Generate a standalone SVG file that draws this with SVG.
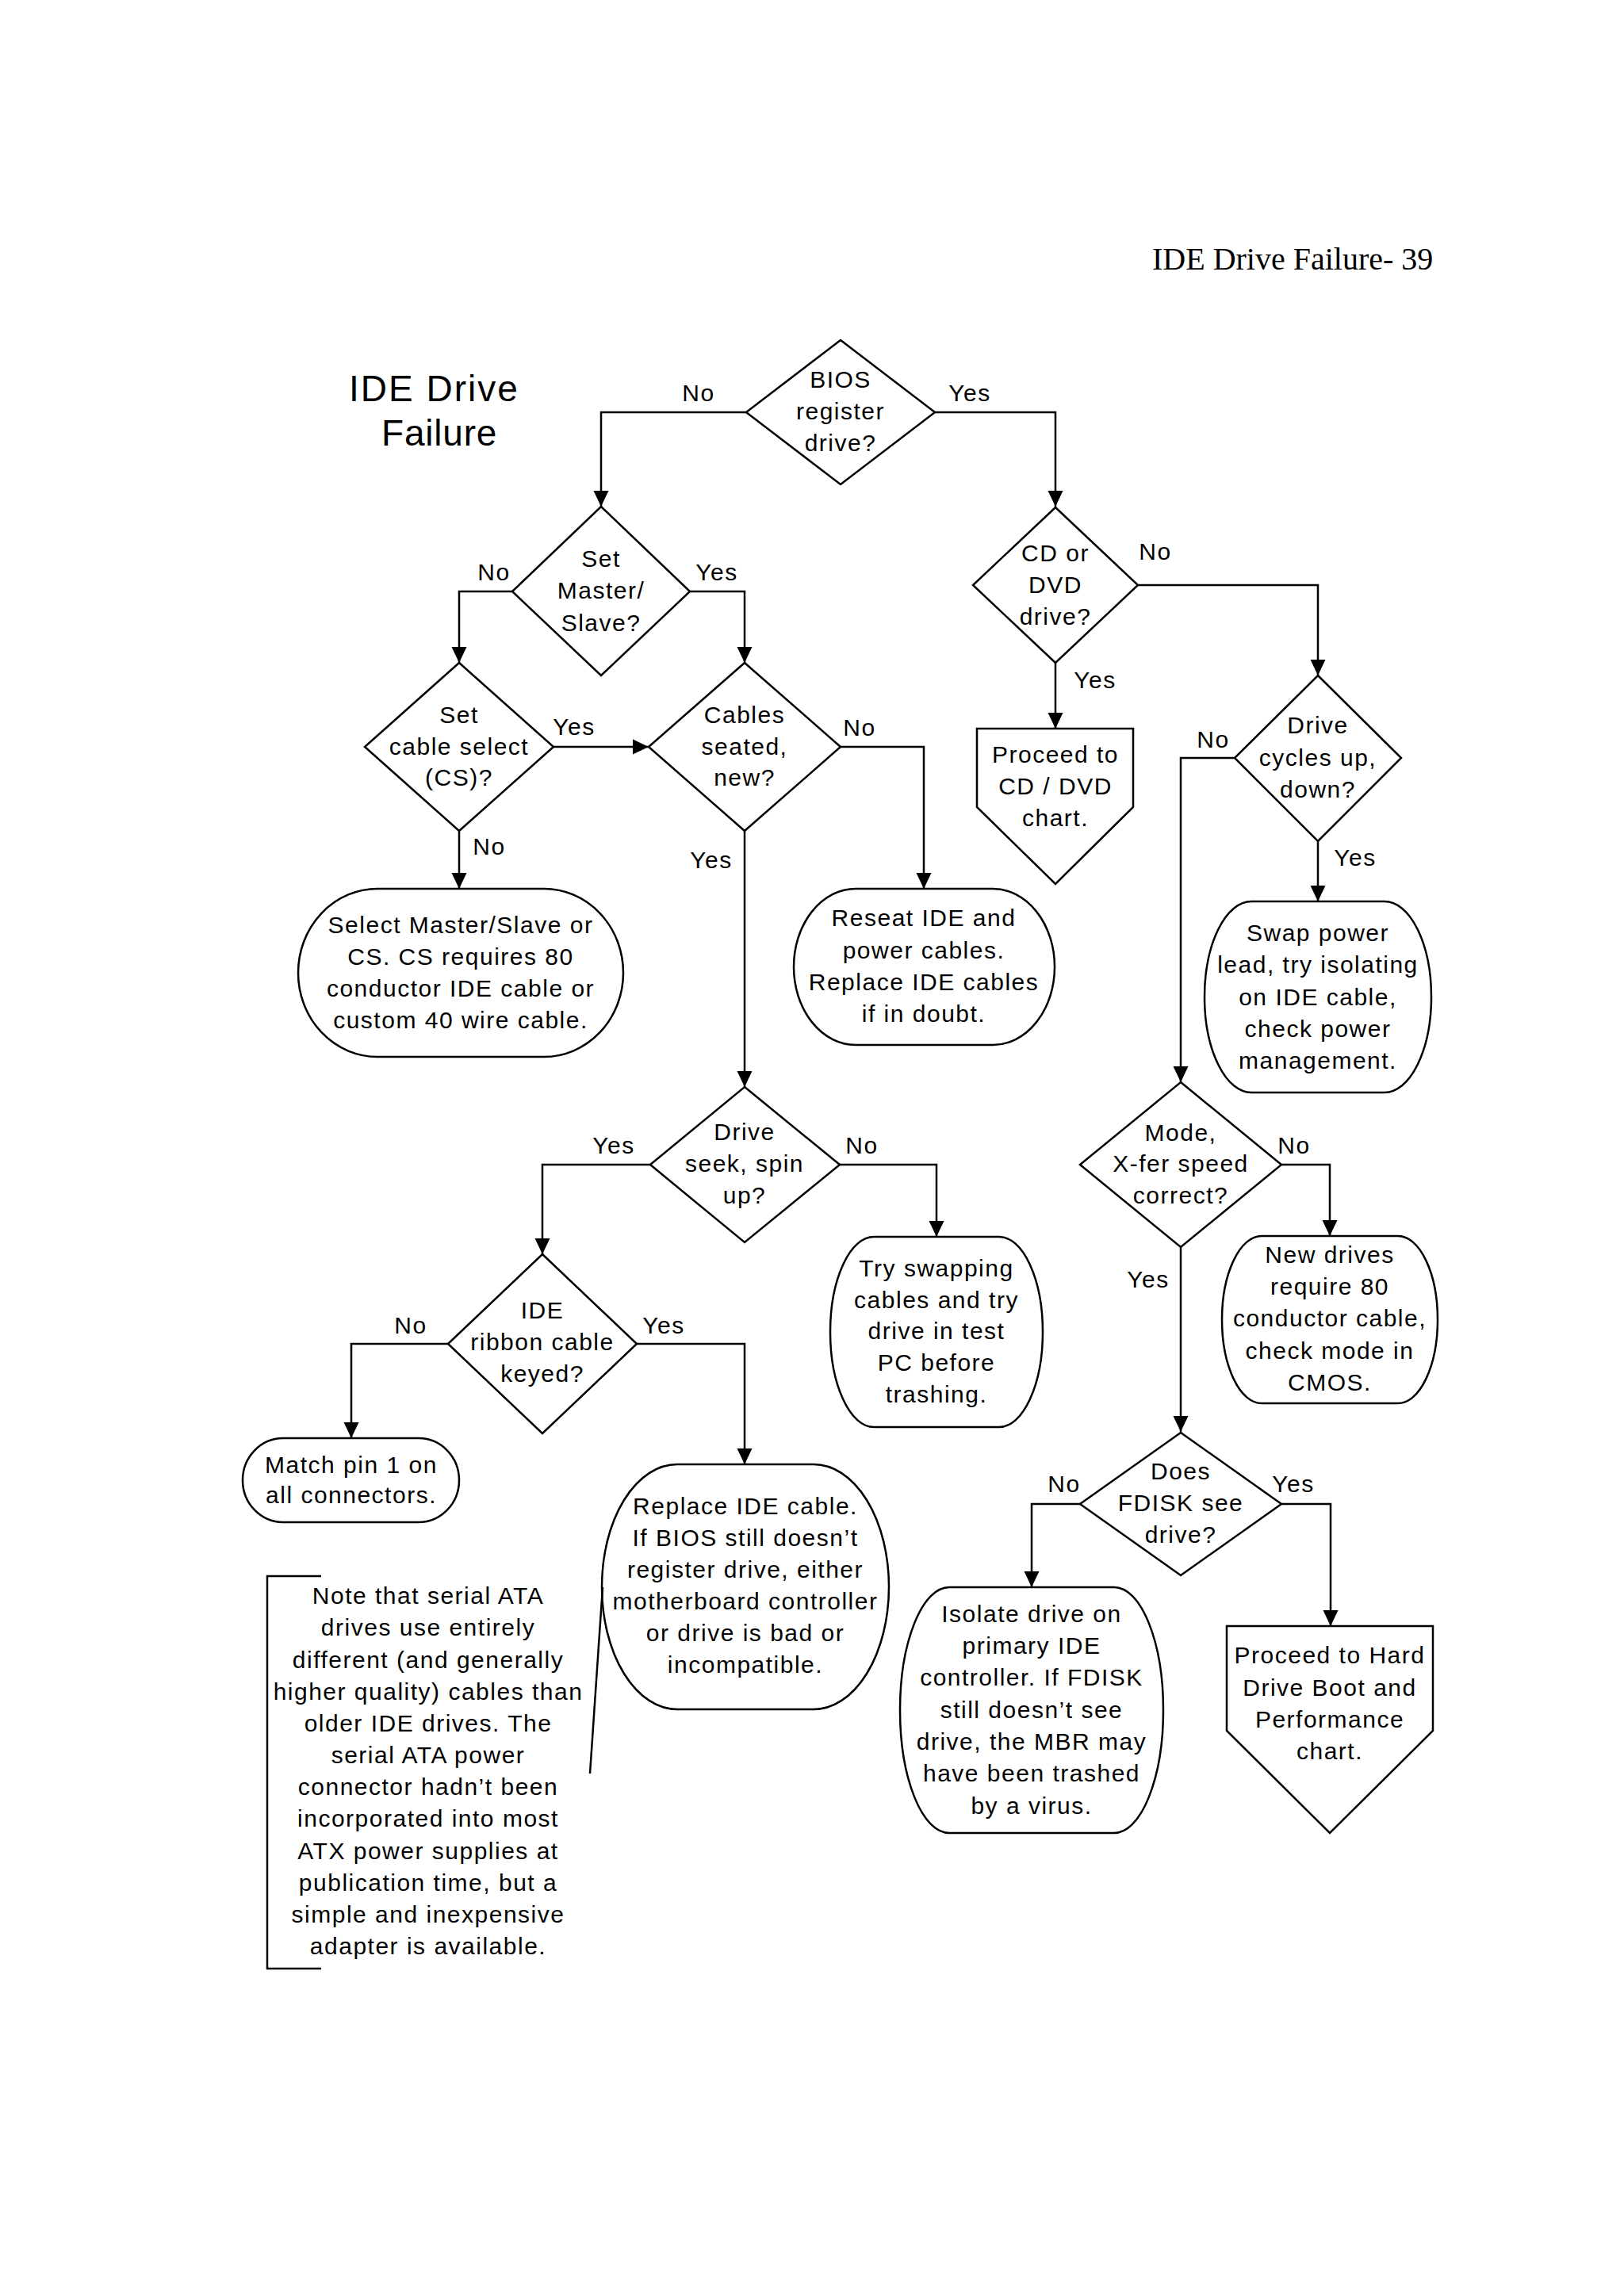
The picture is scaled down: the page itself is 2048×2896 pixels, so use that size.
<svg xmlns="http://www.w3.org/2000/svg" width="2048" height="2896" viewBox="0 0 2048 2896">
<defs>
<style>
.s{fill:#fff;stroke:#000;stroke-width:2.5}
.c{fill:none;stroke:#000;stroke-width:2.5}
.t{font-family:"Liberation Sans",Arial,sans-serif;font-size:30px;letter-spacing:1.5px;text-anchor:middle;fill:#000}
.l{font-family:"Liberation Sans",Arial,sans-serif;font-size:30px;letter-spacing:1.5px;text-anchor:middle;fill:#000}
.h{font-family:"Liberation Serif","Times New Roman",serif;font-size:40px;fill:#000}
.ti{font-family:"Liberation Sans",Arial,sans-serif;font-size:46px;fill:#000}
</style>
<marker id="ah" markerUnits="userSpaceOnUse" markerWidth="20" markerHeight="20" viewBox="0 0 20 19" refX="20" refY="9.5" orient="auto">
<path d="M0,0 L20,9.5 L0,19 Z" fill="#000"/>
</marker>
</defs>
<rect width="2048" height="2896" fill="#fff"/>
<text class="h" x="1453" y="340">IDE Drive Failure- 39</text>
<g id="title">
<text class="ti" x="440" y="506" letter-spacing="2">IDE Drive</text>
<text class="ti" x="481" y="562" letter-spacing="0.8">Failure</text>
</g>

<g id="connectors">
<path class="c" d="M941,520 H758 V639" marker-end="url(#ah)"/>
<path class="c" d="M1179,520 H1331 V639" marker-end="url(#ah)"/>
<path class="c" d="M646,746 H579 V836" marker-end="url(#ah)"/>
<path class="c" d="M870,746 H939 V836" marker-end="url(#ah)"/>
<path class="c" d="M698,942 H818" marker-end="url(#ah)"/>
<path class="c" d="M579,1048 V1121" marker-end="url(#ah)"/>
<path class="c" d="M1060,942 H1165 V1121" marker-end="url(#ah)"/>
<path class="c" d="M939,1048 V1371" marker-end="url(#ah)"/>
<path class="c" d="M1435,738 H1662 V852" marker-end="url(#ah)"/>
<path class="c" d="M1331,836 V919" marker-end="url(#ah)"/>
<path class="c" d="M1557,956 H1489 V1365" marker-end="url(#ah)"/>
<path class="c" d="M1662,1061 V1137" marker-end="url(#ah)"/>
<path class="c" d="M820,1469 H684 V1582" marker-end="url(#ah)"/>
<path class="c" d="M1059,1469 H1181 V1560" marker-end="url(#ah)"/>
<path class="c" d="M1616,1469 H1677 V1559" marker-end="url(#ah)"/>
<path class="c" d="M1489,1573 V1806" marker-end="url(#ah)"/>
<path class="c" d="M565,1695 H443 V1814" marker-end="url(#ah)"/>
<path class="c" d="M803,1695 H939 V1847" marker-end="url(#ah)"/>
<path class="c" d="M1362,1897 H1301 V2002" marker-end="url(#ah)"/>
<path class="c" d="M1616,1897 H1678 V2051" marker-end="url(#ah)"/>
<text class="l" x="881" y="506">No</text>
<text class="l" x="1223" y="506">Yes</text>
<text class="l" x="623" y="732">No</text>
<text class="l" x="904" y="732">Yes</text>
<text class="l" x="1457" y="706">No</text>
<text class="l" x="1381" y="868">Yes</text>
<text class="l" x="724" y="927">Yes</text>
<text class="l" x="1084" y="928">No</text>
<text class="l" x="617" y="1078">No</text>
<text class="l" x="897" y="1095">Yes</text>
<text class="l" x="1530" y="943">No</text>
<text class="l" x="1709" y="1092">Yes</text>
<text class="l" x="774" y="1455">Yes</text>
<text class="l" x="1087" y="1455">No</text>
<text class="l" x="1632" y="1455">No</text>
<text class="l" x="1448" y="1624">Yes</text>
<text class="l" x="518" y="1682">No</text>
<text class="l" x="837" y="1682">Yes</text>
<text class="l" x="1342" y="1882">No</text>
<text class="l" x="1631" y="1882">Yes</text>
</g>

<g id="bios">
<path class="s" d="M1060,429 L1179,520 L1060,611 L941,520 Z"/>
<text class="t"><tspan x="1060" y="489">BIOS</tspan><tspan x="1060" y="529">register</tspan><tspan x="1060" y="569">drive?</tspan></text>
</g>
<g id="setmaster">
<path class="s" d="M758,639 L870,746 L758,852 L646,746 Z"/>
<text class="t"><tspan x="758" y="715">Set</tspan><tspan x="758" y="755">Master/</tspan><tspan x="758" y="796">Slave?</tspan></text>
</g>
<g id="cddvd">
<path class="s" d="M1331,640 L1435,738 L1331,836 L1227,738 Z"/>
<text class="t"><tspan x="1331" y="708">CD or</tspan><tspan x="1331" y="748">DVD</tspan><tspan x="1331" y="788">drive?</tspan></text>
</g>
<g id="cableselect">
<path class="s" d="M579,836 L698,942 L579,1048 L460,942 Z"/>
<text class="t"><tspan x="579" y="912">Set</tspan><tspan x="579" y="952">cable select</tspan><tspan x="579" y="991">(CS)?</tspan></text>
</g>
<g id="cables">
<path class="s" d="M939,836 L1060,942 L939,1048 L818,942 Z"/>
<text class="t"><tspan x="939" y="912">Cables</tspan><tspan x="939" y="952">seated,</tspan><tspan x="939" y="991">new?</tspan></text>
</g>
<g id="proceedcd">
<path class="s" d="M1232,919 H1429 V1018 L1331,1115 L1232,1018 Z"/>
<text class="t"><tspan x="1331" y="962">Proceed to</tspan><tspan x="1331" y="1002">CD / DVD</tspan><tspan x="1331" y="1042">chart.</tspan></text>
</g>
<g id="cycles">
<path class="s" d="M1662,852 L1767,956 L1662,1061 L1557,956 Z"/>
<text class="t"><tspan x="1662" y="925">Drive</tspan><tspan x="1662" y="966">cycles up,</tspan><tspan x="1662" y="1006">down?</tspan></text>
</g>
<g id="selectms">
<path class="s" d="M686,1121 H476 A100,106 0 0 0 476,1333 H686 A100,106 0 0 0 686,1121 Z"/>
<text class="t"><tspan x="581" y="1177">Select Master/Slave or</tspan><tspan x="581" y="1217">CS. CS requires 80</tspan><tspan x="581" y="1257">conductor IDE cable or</tspan><tspan x="581" y="1297">custom 40 wire cable.</tspan></text>
</g>
<g id="reseat">
<path class="s" d="M1079,1121 H1252 A78,98.5 0 0 1 1252,1318 H1079 A78,98.5 0 0 1 1079,1121 Z"/>
<text class="t"><tspan x="1165" y="1168">Reseat IDE and</tspan><tspan x="1165" y="1209">power cables.</tspan><tspan x="1165" y="1249">Replace IDE cables</tspan><tspan x="1165" y="1289">if in doubt.</tspan></text>
</g>
<g id="swappower">
<path class="s" d="M1578,1137 H1746 A59,120.5 0 0 1 1746,1378 H1578 A59,120.5 0 0 1 1578,1137 Z"/>
<text class="t"><tspan x="1662" y="1187">Swap power</tspan><tspan x="1662" y="1227">lead, try isolating</tspan><tspan x="1662" y="1268">on IDE cable,</tspan><tspan x="1662" y="1308">check power</tspan><tspan x="1662" y="1348">management.</tspan></text>
</g>
<g id="seek">
<path class="s" d="M939,1371 L1059,1469 L939,1567 L820,1469 Z"/>
<text class="t"><tspan x="939" y="1438">Drive</tspan><tspan x="939" y="1478">seek, spin</tspan><tspan x="939" y="1518">up?</tspan></text>
</g>
<g id="mode">
<path class="s" d="M1489,1365 L1616,1469 L1489,1573 L1362,1469 Z"/>
<text class="t"><tspan x="1489" y="1439">Mode,</tspan><tspan x="1489" y="1478">X-fer speed</tspan><tspan x="1489" y="1518">correct?</tspan></text>
</g>
<g id="tryswap">
<path class="s" d="M1102,1560 H1260 A55,120 0 0 1 1260,1800 H1102 A55,120 0 0 1 1102,1560 Z"/>
<text class="t"><tspan x="1181" y="1610">Try swapping</tspan><tspan x="1181" y="1650">cables and try</tspan><tspan x="1181" y="1689">drive in test</tspan><tspan x="1181" y="1729">PC before</tspan><tspan x="1181" y="1769">trashing.</tspan></text>
</g>
<g id="newdrives">
<path class="s" d="M1591,1559 H1763 A50,105.5 0 0 1 1763,1770 H1591 A50,105.5 0 0 1 1591,1559 Z"/>
<text class="t"><tspan x="1677" y="1593">New drives</tspan><tspan x="1677" y="1633">require 80</tspan><tspan x="1677" y="1673">conductor cable,</tspan><tspan x="1677" y="1714">check mode in</tspan><tspan x="1677" y="1754">CMOS.</tspan></text>
</g>
<g id="keyed">
<path class="s" d="M684,1582 L803,1695 L684,1808 L565,1695 Z"/>
<text class="t"><tspan x="684" y="1663">IDE</tspan><tspan x="684" y="1703">ribbon cable</tspan><tspan x="684" y="1743">keyed?</tspan></text>
</g>
<g id="matchpin">
<path class="s" d="M357,1814 H528 A51,53 0 0 1 528,1920 H357 A51,53 0 0 1 357,1814 Z"/>
<text class="t"><tspan x="443" y="1858">Match pin 1 on</tspan><tspan x="443" y="1896">all connectors.</tspan></text>
</g>
<g id="replace">
<path class="s" d="M854,1847 H1026 A95,154.5 0 0 1 1026,2156 H854 A95,154.5 0 0 1 854,1847 Z"/>
<text class="t"><tspan x="940" y="1910">Replace IDE cable.</tspan><tspan x="940" y="1950">If BIOS still doesn’t</tspan><tspan x="940" y="1990">register drive, either</tspan><tspan x="940" y="2030">motherboard controller</tspan><tspan x="940" y="2070">or drive is bad or</tspan><tspan x="940" y="2110">incompatible.</tspan></text>
</g>
<g id="fdisk">
<path class="s" d="M1489,1807 L1616,1897 L1489,1987 L1362,1897 Z"/>
<text class="t"><tspan x="1489" y="1866">Does</tspan><tspan x="1489" y="1906">FDISK see</tspan><tspan x="1489" y="1946">drive?</tspan></text>
</g>
<g id="isolate">
<path class="s" d="M1197,2002 H1405 A62,155 0 0 1 1405,2312 H1197 A62,155 0 0 1 1197,2002 Z"/>
<text class="t"><tspan x="1301" y="2046">Isolate drive on</tspan><tspan x="1301" y="2086">primary IDE</tspan><tspan x="1301" y="2126">controller. If FDISK</tspan><tspan x="1301" y="2167">still doesn’t see</tspan><tspan x="1301" y="2207">drive, the MBR may</tspan><tspan x="1301" y="2247">have been trashed</tspan><tspan x="1301" y="2288">by a virus.</tspan></text>
</g>
<g id="proceedhd">
<path class="s" d="M1547,2051 H1807 V2183 L1677,2312 L1547,2183 Z"/>
<text class="t"><tspan x="1677" y="2098">Proceed to Hard</tspan><tspan x="1677" y="2139">Drive Boot and</tspan><tspan x="1677" y="2179">Performance</tspan><tspan x="1677" y="2219">chart.</tspan></text>
</g>
<g id="note">
<path class="c" d="M405,1988 H337 V2483 H405"/>
<path class="c" d="M744,2237 L760,2002"/>
<text class="t"><tspan x="540" y="2023">Note that serial ATA</tspan><tspan x="540" y="2063">drives use entirely</tspan><tspan x="540" y="2104">different (and generally</tspan><tspan x="540" y="2144">higher quality) cables than</tspan><tspan x="540" y="2184">older IDE drives. The</tspan><tspan x="540" y="2224">serial ATA power</tspan><tspan x="540" y="2264">connector hadn’t been</tspan><tspan x="540" y="2304">incorporated into most</tspan><tspan x="540" y="2345">ATX power supplies at</tspan><tspan x="540" y="2385">publication time, but a</tspan><tspan x="540" y="2425">simple and inexpensive</tspan><tspan x="540" y="2465">adapter is available.</tspan></text>
</g>
</svg>
